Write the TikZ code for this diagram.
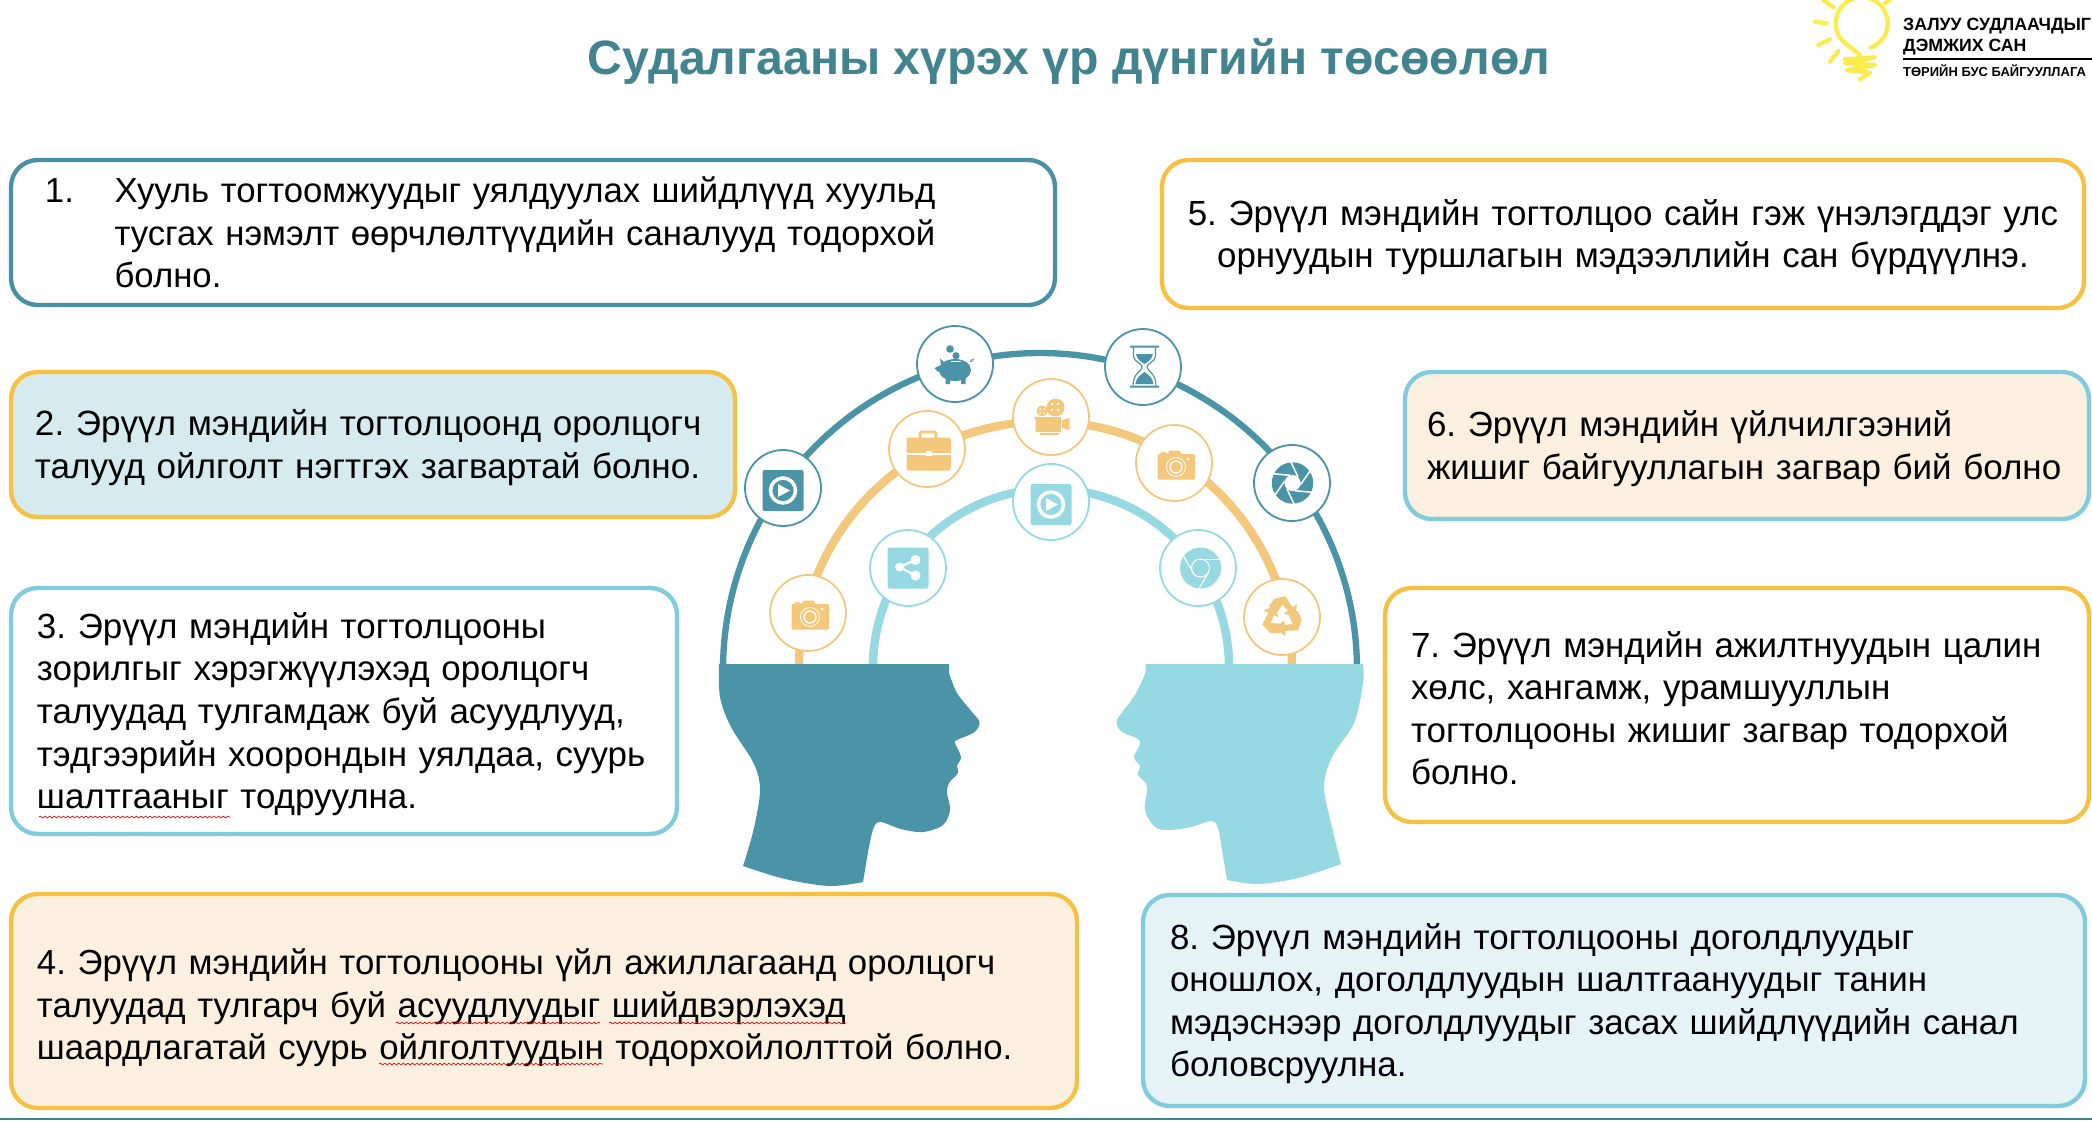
\documentclass[tikz,border=0pt]{standalone}
\usepackage{fontspec}
\setmainfont{Liberation Sans}
\usetikzlibrary{positioning,decorations.pathmorphing}
\frenchspacing

\definecolor{tealdark}{HTML}{4B93A6}
\definecolor{teallight}{HTML}{97D9E3}
\definecolor{peach}{HTML}{F4C87C}
\definecolor{titleteal}{HTML}{41848F}
\definecolor{edgeteal}{HTML}{4A90A4}
\definecolor{edgeblue}{HTML}{80CBDD}
\definecolor{edgeyellow}{HTML}{F6C143}
\definecolor{fillblue}{HTML}{D6EBEF}
\definecolor{fillpale}{HTML}{E5F3F6}
\definecolor{fillcream}{HTML}{FBF0E0}
\definecolor{bulbyellow}{HTML}{FBEB4B}

% Icons, drawn around the centre of a ring node
\newcommand{\iconplay}[2]{\begin{scope}[shift={(#1)}]
    \fill[#2, rounded corners=3pt] (-20.5,-18) rectangle (20.5,23);
    \draw[white, line width=5pt] (0,2.5) circle[radius=12.5];
    \fill[white] (-5,-4) -- (7,2.5) -- (-5,9) -- cycle;
\end{scope}}
\newcommand{\iconshare}[2]{\begin{scope}[shift={(#1)}]
    \fill[#2, rounded corners=3pt] (-20.5,-20.5) rectangle (20.5,20.5);
    \draw[white, line width=3pt] (7.5,-8) -- (-8.5,-1) -- (7.5,7.5);
    \fill[white] (-8.5,-1) circle[radius=4.5] (7.5,-8) circle[radius=5] (7.5,7.5) circle[radius=5];
\end{scope}}
\newcommand{\iconcamera}[2]{\begin{scope}[shift={(#1)}]
    \fill[#2, rounded corners=1.5pt] (-16.5,-9) -- (-13,-9) -- (-13,-11) -- (-8,-11) -- (-8,-9) -- (-6,-9) -- (-5,-12.5)
        -- (6,-12.5) -- (7,-9) -- (21,-9) -- (21,16.5) -- (-16.5,16.5) -- cycle;
    \draw[white, line width=1.2pt] (2,4) circle[radius=9.5];
    \draw[white, line width=1.8pt] (2,4) circle[radius=6];
    \fill[white] (14,-4) circle[radius=1.5];
\end{scope}}
\newcommand{\iconcase}[2]{\begin{scope}[shift={(#1)}]
    \draw[#2, line width=4pt, rounded corners=2pt] (-7,-10) -- (-7,-17) -- (9,-17) -- (9,-10);
    \fill[#2, rounded corners=4pt] (-20.5,-11.5) rectangle (24,21.5);
    \fill[white] (-20.5,4) rectangle (24,5.5);
    \fill[white] (-1,2) rectangle (4.5,7);
\end{scope}}
\newcommand{\iconfilm}[2]{\begin{scope}[shift={(#1)}]
    \fill[#2] (4.5,-9.5) circle[radius=9] (-9,-6) circle[radius=5.5];
    \fill[#2] (-17,0) -- (10,0) -- (10,15) -- (-15.5,15) -- (-15.5,3) -- cycle;
    \fill[#2] (11,3) -- (18.5,1) -- (18.5,13) -- (11,11) -- cycle;
    \fill[#2] (-11,16) rectangle (8,18);
    \fill[white] (1,-13) circle[radius=1.4] (7,-13) circle[radius=1.4] (1,-7) circle[radius=1.4] (7,-7) circle[radius=1.4];
    \fill[white] (-11,-8) circle[radius=.9] (-7,-8) circle[radius=.9] (-11,-4) circle[radius=.9] (-7,-4) circle[radius=.9];
\end{scope}}
\newcommand{\iconglass}[2]{\begin{scope}[shift={(#1)}]
    \fill[#2] (-13,-21.5) rectangle (16,-19.5) (-13,18.5) rectangle (16,20.5);
    \draw[#2, line width=1.6pt] (-9.5,-19.5) -- (-9.5,-11) .. controls (-9.5,-5) and (-1,-4) .. (-1,0)
        .. controls (-1,4) and (-10,6) .. (-10,18.5);
    \draw[#2, line width=1.6pt] (12.5,-19.5) -- (12.5,-11) .. controls (12.5,-5) and (4,-4) .. (4,0)
        .. controls (4,4) and (13,6) .. (13,18.5);
    \fill[#2] (-7,-13) -- (10,-13) .. controls (9,-7) and (3,-4) .. (1.5,-3) .. controls (0,-4) and (-6,-7) .. (-7,-13) -- cycle;
    \fill[#2] (1.5,5) .. controls (4,7) and (10,10) .. (10.5,17) -- (-7.5,17) .. controls (-7,10) and (-1,7) .. (1.5,5) -- cycle;
\end{scope}}
\newcommand{\iconshutter}[2]{\begin{scope}[shift={(#1)}]
    \fill[#2] (0.5,0) circle[radius=20.7];
    \foreach \ang in {25,85,145,205,265,325} {
        \draw[white, line width=2.2pt, rotate around={\ang:(0.5,0)}] (8,-3) -- (8,-23);
    }
    \fill[white] (0.5,0) circle[radius=8];
\end{scope}}
\newcommand{\iconchrome}[2]{\begin{scope}[shift={(#1)}]
    \fill[#2] (2.5,0) circle[radius=20.5];
    \draw[white, line width=1.6pt] (2.5,0) circle[radius=9];
    \draw[white, line width=1.6pt] (2.5,-8.5) -- (23,-8.5);
    \draw[white, line width=1.6pt] (11,3.5) -- (1,20.5);
    \draw[white, line width=1.6pt] (-5,4.5) -- (-14.5,-12);
\end{scope}}
\newcommand{\iconrecycle}[2]{\begin{scope}[shift={(#1)}, scale=1.15]
    \foreach \ang in {0,120,240} {
        \fill[#2, rotate=\ang] (-6.5,-16) -- (3,-18) -- (9,-8.5) -- (13,-11) -- (11.5,0) -- (1.5,-3) -- (5,-5.5) -- (0.5,-11) -- (-4,-4.5) -- (-11.5,-9) -- cycle;
    }
\end{scope}}
\newcommand{\iconpig}[2]{\begin{scope}[shift={(#1)}]
    \fill[#2] (0,6) ellipse[x radius=16, y radius=11];
    \fill[#2] (-11,-2) -- (-15,-5.5) -- (-14,1) -- (-20.5,4) -- (-18,7) -- (-10,11) -- cycle;
    \fill[#2] (-9.5,14) rectangle (-5,20) (6,14) rectangle (10.5,20);
    \fill[#2] (-5,-15) circle[radius=3.8] (1,-8.3) circle[radius=3.6];
    \fill[white] (-4,-3.2) rectangle (6,-2.2);
    \draw[#2, line width=.8pt] (15,-2) -- (19,-5.5);
    \draw[#2, line width=.6pt] (17,-3.5) circle[radius=1.4];
\end{scope}}

\begin{document}
\begin{tikzpicture}[
    x=0.05cm, y=-0.05cm,
    box/.style={rectangle, rounded corners=38pt, line width=6.2pt, align=left, outer sep=0pt,
        inner xsep=1.2cm, inner ysep=0pt, text=black, font=\fontsize{49.7}{60.5}\selectfont},
    lowered/.style={execute at begin node={\rule{0pt}{46pt}}},
    ring/.style={circle, draw, fill=white, line width=2.6pt, minimum size=3.8cm, inner sep=0pt},
    tealarc/.style={draw=tealdark, line width=9pt},
    peacharc/.style={draw=peach, line width=12pt},
    bluearc/.style={draw=teallight, line width=12pt},
    logoline/.style={draw=bulbyellow, line width=6pt, line cap=round, line join=round},
    wiggle/.style={draw=red!85!black, line width=.9pt, decorate, decoration={snake, amplitude=1.3pt, segment length=6.5pt}}
]
    \useasboundingbox (0,0) rectangle (2092,1120);

    % Title and logo
    \node[text=titleteal, font=\fontsize{68.6}{72}\bfseries\selectfont] (title) at (1069,62) {Судалгааны хүрэх үр дүнгийн төсөөлөл};
    \draw[logoline] (1870.6,47.7) arc[start angle=70, end angle=-225, radius=26] -- (1860,55);
    \draw[logoline] (1845,59.3) -- (1875,57.3) -- (1845,63.3) -- (1875,65) -- (1846.7,70) -- (1870,72.7) -- (1860,79.3);
    \draw[logoline] (1815,21.7) -- (1826.7,23.3);
    \draw[logoline] (1818.3,45) -- (1830,39.3);
    \draw[logoline] (1830,61.7) -- (1838.3,51);
    \draw[logoline] (1823.3,0) -- (1833.3,7.3);
    \draw[logoline] (1885,3.3) -- (1891.7,-1.7);
    \node[anchor=base west, inner sep=0pt, font=\fontsize{25.2}{26}\bfseries\selectfont] (logo1) at (1903,30) {ЗАЛУУ СУДЛААЧДЫГ};
    \node[anchor=base west, inner sep=0pt, font=\fontsize{25.2}{26}\bfseries\selectfont] (logo2) at (1903,51) {ДЭМЖИХ САН};
    \node[anchor=base west, inner sep=0pt, font=\fontsize{18.5}{20}\bfseries\selectfont] (logo3) at (1903,76) {ТӨРИЙН БУС БАЙГУУЛЛАГА};
    \fill[black] (1903,58) rectangle (2092,60);

    % Arcs
    \coordinate (tealfoot) at (723,670);
    \coordinate (peachfoot) at (799,668);
    \coordinate (bluefoot) at (873,667);
    \draw[tealarc] (tealfoot) arc[start angle=180, end angle=360, radius=317];
    \draw[peacharc] (peachfoot) arc[start angle=180, end angle=360, radius=246.5];
    \draw[bluearc] (bluefoot) arc[start angle=180, end angle=360, radius=178];

    % Outer rings
    \node[ring, draw=tealdark] (o1) at (783,488) {};
    \node[ring, draw=tealdark] (o2) at (955,364) {};
    \node[ring, draw=tealdark] (o3) at (1143,367) {};
    \node[ring, draw=tealdark] (o4) at (1292,483) {};
    % Middle rings
    \node[ring, draw=peach] (m1) at (808,613) {};
    \node[ring, draw=peach] (m2) at (927,449) {};
    \node[ring, draw=peach] (m3) at (1051,417) {};
    \node[ring, draw=peach] (m4) at (1174,463) {};
    \node[ring, draw=peach] (m5) at (1282,617) {};
    % Inner rings
    \node[ring, draw=teallight] (i1) at (908,568) {};
    \node[ring, draw=teallight] (i2) at (1051,502) {};
    \node[ring, draw=teallight] (i3) at (1198,568) {};

    % Icons
    \iconplay{o1}{tealdark}
    \iconpig{o2}{tealdark}
    \iconglass{o3}{tealdark}
    \iconshutter{o4}{tealdark}
    \iconcamera{m1}{peach}
    \iconcase{m2}{peach}
    \iconfilm{m3}{peach}
    \iconcamera{m4}{peach}
    \iconrecycle{m5}{peach}
    \iconshare{i1}{teallight}
    \iconplay{i2}{teallight}
    \iconchrome{i3}{teallight}

    % Heads
    \fill[tealdark] (719,664) -- (949,664) -- plot[smooth, tension=.55] coordinates {(949,673) (957,693) (972,712) (979.5,722) (974.5,732) (957,740) (955,743) (961,757) (957,766) (958,773) (949,783) (947,793) (950,810) (943,825) (923,832) (901,829) (881,822) (874,827) (869,847) (863,882)}
        -- plot[smooth, tension=.55] coordinates {(863,882) (829.5,886) (785,879) (743,866)}
        -- plot[smooth, tension=.55] coordinates {(743,866) (753.5,830) (760,790) (753.5,763) (731,727) (720,697) (719,664)} -- cycle;
    \fill[teallight] (1363,664) -- (1145.5,664) -- plot[smooth, tension=.55] coordinates {(1145.5,673) (1135,695) (1120,715) (1116.5,723) (1122,732) (1140,741) (1134,757) (1140,766) (1138,775) (1147,786) (1145,810) (1155,827) (1169,830) (1191,827) (1211,821) (1218,828) (1222,850) (1227,880)}
        -- plot[smooth, tension=.55] coordinates {(1227,880) (1258,884) (1298,878) (1341,864)}
        -- plot[smooth, tension=.55] coordinates {(1341,864) (1332,827) (1324,787) (1332,757) (1354,723) (1363,683) (1363,664)} -- cycle;

    % Left column
    \node[box, draw=edgeteal, fill=white, anchor=north west, inner xsep=1.7cm, text width=48.8cm, minimum height=7.25cm, font=\fontsize{49.4}{60.5}\selectfont] (b1) at (11,160)
        {\makebox[99pt][l]{1.}Хууль тогтоомжуудыг уялдуулах шийдлүүд хуульд\\\hspace*{99pt}тусгах нэмэлт өөрчлөлтүүдийн саналууд тодорхой\\\hspace*{99pt}болно.};
    \node[box, lowered, draw=edgeyellow, fill=fillblue, below=3.35cm of b1.south west, anchor=north west, text width=33.8cm, minimum height=7.25cm, font=\fontsize{49.9}{60.5}\selectfont] (b2)
        {2. Эрүүл мэндийн тогтолцоонд оролцогч\\талууд ойлголт нэгтгэх загвартай болно.};
    \node[box, lowered, draw=edgeblue, fill=white, below=3.55cm of b2.south west, anchor=north west, inner xsep=1.3cm, text width=30.7cm, minimum height=12.3cm] (b3)
        {3. Эрүүл мэндийн тогтолцооны\\зорилгыг хэрэгжүүлэхэд оролцогч\\талуудад тулгамдаж буй асуудлууд,\\тэдгээрийн хоорондын уялдаа, суурь\\шалтгааныг тодруулна.};
    \node[box, draw=edgeyellow, fill=fillcream, below=3cm of b3.south west, anchor=north west, inner xsep=1.3cm, text width=50.7cm, minimum height=10.7cm, font=\fontsize{49.5}{60.5}\selectfont] (b4)
        {\rule{0pt}{57pt}4. Эрүүл мэндийн тогтолцооны үйл ажиллагаанд оролцогч\\талуудад тулгарч буй асуудлуудыг шийдвэрлэхэд\\шаардлагатай суурь ойлголтуудын тодорхойлолттой болно.};

    % Right column
    \node[box, lowered, draw=edgeyellow, fill=white, anchor=north west, align=center, text width=43.7cm, minimum height=7.4cm] (b5) at (1162,160)
        {5. Эрүүл мэндийн тогтолцоо сайн гэж үнэлэгддэг улс\\орнуудын туршлагын мэдээллийн сан бүрдүүлнэ.};
    \node[box, lowered, draw=edgeblue, fill=fillcream, anchor=north west, inner xsep=1.1cm, text width=32cm, minimum height=7.35cm] (b6) at (1405,372)
        {6. Эрүүл мэндийн үйлчилгээний\\жишиг байгууллагын загвар бий болно};
    \node[box, lowered, draw=edgeyellow, fill=white, below=3.45cm of b6.south east, anchor=north east, inner xsep=1.3cm, text width=32.6cm, minimum height=11.7cm] (b7)
        {7. Эрүүл мэндийн ажилтнуудын цалин\\хөлс, хангамж, урамшууллын\\тогтолцооны жишиг загвар тодорхой\\болно.};
    \node[box, lowered, draw=edgeblue, fill=fillpale, anchor=north west, inner xsep=1.35cm, text width=44.4cm, minimum height=10.55cm] (b8) at (1143,895)
        {8. Эрүүл мэндийн тогтолцооны доголдлуудыг\\оношлох, доголдлуудын шалтгаануудыг танин\\мэдэснээр доголдлуудыг засах шийдлүүдийн санал\\боловсруулна.};

    % Spelling marks
    \draw[wiggle] (39,817) -- (230,817);
    \draw[wiggle] (396,1023) -- (600,1023);
    \draw[wiggle] (609,1023) -- (846,1023);
    \draw[wiggle] (379,1064) -- (603,1064);

    % Bottom rule
    \fill[titleteal] (0,1118) rectangle (2092,1120);
\end{tikzpicture}
\end{document}
